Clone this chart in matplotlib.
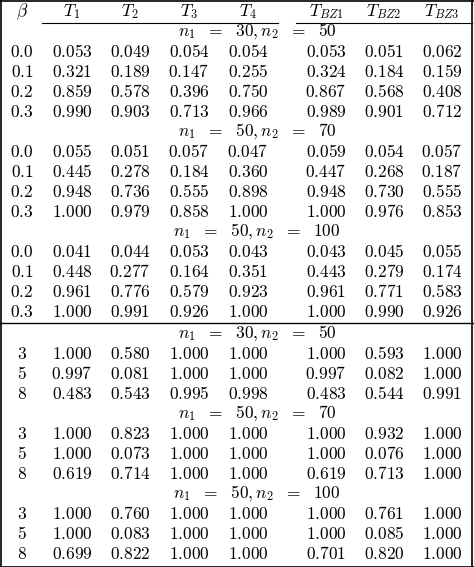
import matplotlib
matplotlib.use("Agg")
import matplotlib.pyplot as plt

plt.rcParams['mathtext.fontset'] = 'cm'

headers = [r"\beta", "T_1", "T_2", "T_3", "T_4", "T_{BZ1}", "T_{BZ2}", "T_{BZ3}"]
upper_groups = ["n_1\\ \\ =\\ \\ 30, n_2\\ \\ =\\ \\ 50", "n_1\\ \\ =\\ \\ 50, n_2\\ \\ =\\ \\ 70", "n_1\\ \\ =\\ \\ 50, n_2\\ \\ =\\ \\ 100"]
upper_beta = ["0.0", "0.1", "0.2", "0.3"]
upper_vals = [
    [["0.053","0.049","0.054","0.054","0.053","0.051","0.062"],
     ["0.321","0.189","0.147","0.255","0.324","0.184","0.159"],
     ["0.859","0.578","0.396","0.750","0.867","0.568","0.408"],
     ["0.990","0.903","0.713","0.966","0.989","0.901","0.712"]],
    [["0.055","0.051","0.057","0.047","0.059","0.054","0.057"],
     ["0.445","0.278","0.184","0.360","0.447","0.268","0.187"],
     ["0.948","0.736","0.555","0.898","0.948","0.730","0.555"],
     ["1.000","0.979","0.858","1.000","1.000","0.976","0.853"]],
    [["0.041","0.044","0.053","0.043","0.043","0.045","0.055"],
     ["0.448","0.277","0.164","0.351","0.443","0.279","0.174"],
     ["0.961","0.776","0.579","0.923","0.961","0.771","0.583"],
     ["1.000","0.991","0.926","1.000","1.000","0.990","0.926"]],
]
lower_beta = ["3", "5", "8"]
lower_vals = [
    [["1.000","0.580","1.000","1.000","1.000","0.593","1.000"],
     ["0.997","0.081","1.000","1.000","0.997","0.082","1.000"],
     ["0.483","0.543","0.995","0.998","0.483","0.544","0.991"]],
    [["1.000","0.823","1.000","1.000","1.000","0.932","1.000"],
     ["1.000","0.073","1.000","1.000","1.000","0.076","1.000"],
     ["0.619","0.714","1.000","1.000","0.619","0.713","1.000"]],
    [["1.000","0.760","1.000","1.000","1.000","0.761","1.000"],
     ["1.000","0.083","1.000","1.000","1.000","0.085","1.000"],
     ["0.699","0.822","1.000","1.000","0.701","0.820","1.000"]],
]

W, H = 474, 567
fig = plt.figure(figsize=(W/100, H/100), dpi=100)
ax = fig.add_axes([0, 0, 1, 1])
ax.set_xlim(0, W); ax.set_ylim(H, 0); ax.axis('off')

colx = [22, 72, 130, 189, 248, 326, 384, 442]
gx = 257
fs = 12.5

def t(x, y, s):
    ax.text(x, y, f"${s}$", ha='center', va='center', fontsize=fs, color='black')

for x, h in zip(colx, headers):
    t(x, 12, h)
ax.plot([42, 278], [23, 23], color='black', lw=0.8)
ax.plot([296, 472], [23, 23], color='black', lw=0.8)

y = 32
for g, block in zip(upper_groups, upper_vals):
    t(gx, y, g); y += 20
    for b, row in zip(upper_beta, block):
        t(colx[0], y, b)
        for x, v in zip(colx[1:], row):
            t(x, y, v)
        y += 20

ax.plot([0, W], [323, 323], color='black', lw=1.0)

y = 334
for g, block in zip(upper_groups, lower_vals):
    t(gx, y, g); y += 20
    for b, row in zip(lower_beta, block):
        t(colx[0], y, b)
        for x, v in zip(colx[1:], row):
            t(x, y, v)
        y += 20

ax.plot([1.5, 1.5], [0, H], color='black', lw=1.2)
ax.plot([472.5, 472.5], [0, H], color='black', lw=1.2)
ax.plot([0, W], [0.5, 0.5], color='black', lw=1.2)
ax.plot([0, W], [566.5, 566.5], color='black', lw=1.2)

fig.savefig("out.png", dpi=100)
